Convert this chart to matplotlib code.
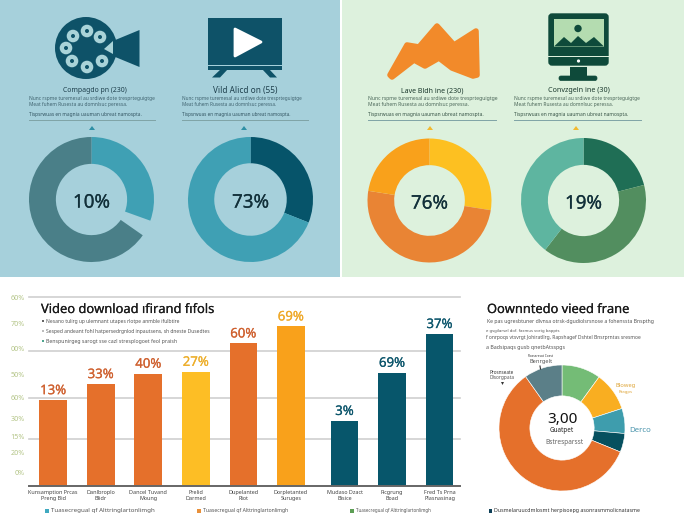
import matplotlib
matplotlib.use("Agg")
import matplotlib.pyplot as plt
import matplotlib.patheffects as pe
from matplotlib.patches import Circle, Polygon, Rectangle, FancyBboxPatch

plt.rcParams['font.family'] = ['Noto Sans', 'DejaVu Sans']

W, H = 684, 513

# top donuts
donut1_values = [30.5, 4.2, 65.3]
donut1_colors = ['#3FA0B4', 'none', '#4A7F88']
donut2_values = [31, 69]
donut2_colors = ['#06546A', '#3FA0B4']
donut3_values = [27.5, 50, 22.5]
donut3_colors = ['#FDC021', '#E98434', '#F9A11B']
donut4_values = [21, 39.5, 39.5]
donut4_colors = ['#1F6E55', '#528E5F', '#5EB5A0']
donut_labels = ['10%', '73%', '76%', '19%']
panel_titles = ['Compagdo pn (230)', 'Vild Alicd on (55)', 'Lave Bldh ine (230)', 'Convzgeln ine (30)']

# bar chart
bar_pos = [0, 1, 2, 3, 4, 5, 6.13, 7.13, 8.13]
bar_values = [45.5, 54, 59.5, 60.5, 75.5, 84.5, 34.5, 60, 80.5]
bar_labels = ['13%', '33%', '40%', '27%', '60%', '69%', '3%', '69%', '37%']
bar_colors = ['#E5702B', '#E5702B', '#E5702B', '#FDBE25', '#E5702B', '#F9A11B', '#07566B', '#07566B', '#07566B']
bar_names = ['Kunsamption Prcas\nPreng Bid', 'Danlbroplo\nBlidr', 'Dancel Tuvand\nMoung', 'Prelid\nDarmed',
             'Dupelanted\nRiot', 'Dorpletanted\nSuruges', 'Mudaso Dzact\nBisice', 'Ficgrung\nBoad', 'Fred Ts Prna\nPlasnasinag']
y_ticks = [7, 17.5, 26, 35.5, 47, 59, 72.5, 86, 99.5]
y_tick_labels = ['0%', '20%', '15%', '30%', '60%', '50%', '00%', '70%', '60%']
grid_levels = [25, 46.6, 71.4, 100]

# right donut
ring_values = [10, 10, 6.4, 4.8, 59, 9.8]
ring_colors = ['#74BC76', '#F9AE21', '#3E9DAD', '#06505F', '#E5702B', '#5B7F88']

fig = plt.figure(figsize=(W / 100, H / 100), dpi=100, facecolor='white')
bg = fig.add_axes([0, 0, 1, 1], zorder=0)
bg.set_xlim(0, W)
bg.set_ylim(H, 0)
bg.axis('off')

semi = [pe.withStroke(linewidth=0.15, foreground='#12303A')]


def px_axes(x0, y0, x1, y1, **kw):
    return fig.add_axes([x0 / W, 1 - y1 / H, (x1 - x0) / W, (y1 - y0) / H], **kw)


def fit(x, y, s, width, size=4, color='#333333', ha='left', **kw):
    # squeeze small text to the width it has in the picture
    t = bg.text(x, y, s, fontsize=size, color=color, ha=ha, va='center', **kw)
    w = t.get_window_extent(fig.canvas.get_renderer()).width
    t.set_fontsize(size * width / w)
    return t


bg.add_patch(Rectangle((0, 0), 340, 277, color='#A6D0DB', lw=0))
bg.add_patch(Rectangle((342, 0), 342, 277, color='#DDF1DD', lw=0))

# camera icon
cam = '#0E5268'
bg.add_patch(Circle((86, 48), 31, color=cam, lw=0))
bg.add_patch(Polygon([(108, 43), (139.5, 30), (139.5, 67), (108, 54)], color=cam, lw=0))
for cx, cy in [(87, 31), (100, 37), (73, 36), (66, 48), (72, 61), (87, 67), (102, 61)]:
    bg.add_patch(Circle((cx, cy), 6.3, color='#A9D3D8', lw=0))
    bg.add_patch(Circle((cx, cy), 2, color=cam, lw=0))
bg.add_patch(Polygon([(113, 41), (113, 54), (104, 49)], color='#A9D3D8', lw=0))

# screen icon
tv = '#0E5268'
bg.add_patch(Rectangle((208, 18), 74, 47, color=tv, lw=0))
bg.add_patch(Polygon([(235, 29), (261, 42), (235, 56)], fc='white', ec='white', lw=2, joinstyle='round'))
bg.add_patch(Rectangle((208, 66), 74, 3.5, color=tv, lw=0))
bg.add_patch(Polygon([(221, 69), (228, 69), (220, 77.5), (212, 77.5)], color=tv, lw=0))
bg.add_patch(Polygon([(262, 69), (269, 69), (277, 77.5), (270, 77.5)], color=tv, lw=0))

# mountain icon
peak = [(390, 75), (407, 45), (419, 47), (437, 26), (454, 45), (476, 31), (477, 75), (473, 76),
        (452, 68), (439, 58), (425, 66), (414, 60), (392, 77)]
bg.add_patch(Polygon(peak, fc='#F28A2A', ec='#F28A2A', lw=4, joinstyle='round'))

# monitor icon
mon = '#0E4A3A'
bg.add_patch(FancyBboxPatch((549, 14), 59, 51, boxstyle='round,pad=0,rounding_size=3', fc=mon, ec=mon, lw=1))
bg.add_patch(Rectangle((554, 18.5), 50, 28, color='#B4DCB0', lw=0))
bg.add_patch(Circle((578, 28.5), 3.7, color=mon, lw=0))
bg.add_patch(Polygon([(554, 46.5), (564, 37), (571, 43), (578, 36), (586, 43), (594, 37), (604, 46.5)], color=mon, lw=0))
bg.add_patch(Rectangle((548, 55.5), 61, 1.2, color='#DDF1DD', lw=0))
bg.add_patch(Circle((578.5, 61), 1.6, color='white', lw=0))
bg.add_patch(Rectangle((570, 66.5), 17, 10, color=mon, lw=0))
bg.add_patch(FancyBboxPatch((559, 76), 38, 4.5, boxstyle='round,pad=0,rounding_size=2', fc=mon, ec=mon, lw=0.5))

# text blocks above the top donuts
blocks = [(95, 29, 155, 126, 92), (245, 182, 303, 126, 244), (432, 368, 499, 128, 430), (579, 514, 642, 127, 576)]
lorem = ['Nunc rspme turemesal au srdiwe dote tresprteguigtge',
         'Meat fuhem Rusesta au domnlsuc peressa.',
         'Tispsrwuas en magnia uauman ubreat namospta.']
tri = ['#2E8FA5', '#2E8FA5', '#F2B92F', '#F2B92F']
tcol = ['#1E3F4C', '#1E3F4C', '#1C3A2E', '#1C3A2E']
for i, (cx, x0, x1, rule_w, tx) in enumerate(blocks):
    fit(cx, 90.5, panel_titles[i], 64 if i < 2 else 62, size=5, color=tcol[i], ha='center', fontweight='bold')
    fit(x0, 98.5, lorem[0], x1 - x0, color=tcol[i], alpha=0.75)
    fit(x0, 104.5, lorem[1], (x1 - x0) * 0.78, color=tcol[i], alpha=0.75)
    fit(x0, 114.5, lorem[2], (x1 - x0) * 0.9, color=tcol[i], alpha=0.85)
    bg.plot([x0, x0 + rule_w], [119.5, 119.5], color='#7FA3A6', lw=0.7)
    bg.add_patch(Polygon([(tx - 3, 130), (tx, 126), (tx + 3, 130)], color=tri[i], lw=0))

# top donuts
for box, vals, cols, lab, in_r in [((29, 137, 154, 262), donut1_values, donut1_colors, donut_labels[0], 0.57),
                                   ((188, 137, 313, 262), donut2_values, donut2_colors, donut_labels[1], 0.58),
                                   ((367.5, 138.5, 491.5, 262.5), donut3_values, donut3_colors, donut_labels[2], 0.57),
                                   ((521, 138, 646, 263), donut4_values, donut4_colors, donut_labels[3], 0.57)]:
    ax = px_axes(*box)
    ax.pie(vals, colors=cols, startangle=90, counterclock=False, radius=1,
           wedgeprops=dict(width=1 - in_r, edgecolor='none', linewidth=0))
    ax.set_xlim(-1, 1)
    ax.set_ylim(-1, 1)
    ax.patch.set_alpha(0)
    ax.text(0, -0.05, lab, ha='center', va='center', fontsize=13.5, color='#12303A', path_effects=semi)

# bar chart
ax = px_axes(29, 297, 460, 486, zorder=1)
ax.patch.set_alpha(0)
ax.set_ylim(0, 100)
ax.set_xlim(-0.51, 8.56)
for lev in grid_levels:
    ax.axhline(lev, color='#CFCFCF', lw=1.2, zorder=1, clip_on=False)
ax.bar(bar_pos, bar_values, width=0.58, color=bar_colors, zorder=2)
for x, v, lab, c in zip(bar_pos, bar_values, bar_labels, bar_colors):
    tc = {'#E5702B': '#CF6130', '#FDBE25': '#EDAE2A', '#F9A11B': '#EFA92A', '#07566B': '#0D566C'}[c]
    ax.text(x, v + 1.5, lab, ha='center', va='bottom', fontsize=9.5, color=tc,
            path_effects=[pe.withStroke(linewidth=0.15, foreground=tc)])
ax.set_xticks(bar_pos)
ax.set_xticklabels(bar_names, fontsize=3.9, color='#444444', linespacing=1.25)
ax.set_yticks(y_ticks)
ax.set_yticklabels(y_tick_labels, fontsize=5.2, color='#B4C588')
ax.tick_params(length=0, pad=3)
for side in ['top', 'right', 'left']:
    ax.spines[side].set_visible(False)
ax.spines['bottom'].set_color('#666666')
ax.spines['bottom'].set_linewidth(1.4)

txt = fig.add_axes([0, 0, 1, 1], zorder=3)
txt.set_xlim(0, W)
txt.set_ylim(H, 0)
txt.axis('off')
bg = txt
heavy = [pe.withStroke(linewidth=0.12, foreground='#1B1B1B')]
fit(41, 309.5, 'Video download ıfirand fıfols', 174, size=13, color='#1B1B1B', path_effects=heavy)
fit(46, 321, 'Nesano tulirg up ulemnant utapes rlotpe anmble ifulbtire', 136, color='#555555')
fit(46, 331, 'Sesped andeant fohl hatpersedrgnlod inpautsens, sh dneste Dusedtes', 166, color='#555555')
fit(46, 341, 'Benspunirgeg sarogt sse cazl stresplogoet feol praish', 131, color='#555555')
for y, c in [(321, '#666666'), (331, '#BBBBBB'), (341, '#4EA58E')]:
    txt.add_patch(Rectangle((41.5, y - 1.3), 2.6, 2.6, color=c, lw=0))

# legend strip at the bottom edge
for x0, x1, c in [(45, 155, '#3FA9C0'), (197, 290, '#E8903A'), (350, 432, '#5D9E55')]:
    txt.add_patch(Rectangle((x0, 508.5), 3.5, 4, color=c, lw=0))
    fit(x0 + 6, 510.5, 'Tuasecregual qf Alttringlartonlimgh', x1 - x0 - 6, color='#555555')
txt.add_patch(Rectangle((489, 509), 2.5, 4, color='#0E4058', lw=0))
fit(494, 510.5, 'Dusmelaruucdmlosmt herpisoepg asonrasmmolicnatasme', 146, color='#333333')

# right side donut
fit(487, 309.5, 'Oownntedo vieed frane', 143, size=13, color='#1B1B1B', path_effects=heavy)
fit(487, 321, 'Ke pas ugresbtuner dlvnsa otrsk-dgudiolsrsnose a fohenssta Bnspthg', 168, color='#555555')
fit(486, 331, 'e gsgilarsel dof. fasmus vortg bappts', 73, color='#555555')
fit(486, 338, 'f onrpoqs vtsvrgt Johiratllrg, Rapshagef Dshtel Bnsrprntas sresmoe', 157, color='#555555')
fit(486, 348, 'a Badsipaqs gusb qnetbAtsspgs', 79, color='#555555')

ax = px_axes(499, 365, 625, 491, zorder=2)
ax.pie(ring_values, colors=ring_colors, startangle=90, counterclock=False, radius=1,
       wedgeprops=dict(width=0.49, edgecolor='white', linewidth=0.4))
ax.set_xlim(-1, 1)
ax.set_ylim(-1, 1)
ax.patch.set_alpha(0)

txt.text(562, 419.5, '3,00', ha='center', va='center', fontsize=11, color='#111111', fontweight='bold')
fit(562, 431, 'Guatpet', 24, size=5, color='#222222', ha='center', fontweight='bold')
fit(564, 442, 'Bstresparsst', 38, color='#666666', ha='center')
fit(541, 356, 'Rosseresat Coast', 25, color='#333333', ha='center')
fit(541, 361, 'Benrgelt', 23, color='#555555', ha='center')
fit(502, 372, 'Prosnseate', 24, color='#333333', ha='center')
fit(502, 378, 'Dlsorgpata', 25, color='#555555', ha='center')
txt.add_patch(Polygon([(501, 382), (504, 382), (502.5, 385)], color='#333333', lw=0))
txt.plot([540, 540.5], [366, 369], color='#333333', lw=0.8)
fit(626, 386, 'Bloweg', 20, color='#DFA63A', ha='center')
fit(626, 392, 'Rragps', 14, color='#DFA63A', ha='center')
fit(640, 430, 'Derco', 22, size=6, color='#4A94AC', ha='center')

fig.savefig('out.png', dpi=100)
